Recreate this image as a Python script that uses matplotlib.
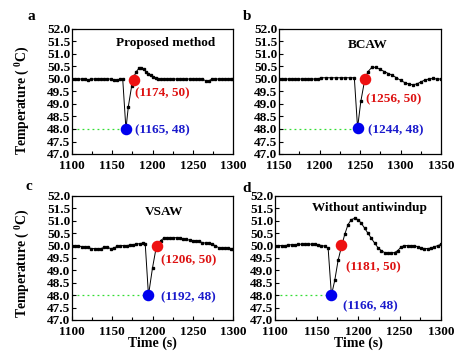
import matplotlib
matplotlib.use("Agg")
import matplotlib.pyplot as plt
from matplotlib.ticker import MultipleLocator, FormatStrFormatter

plt.rcParams['font.family'] = ['Liberation Serif', 'DejaVu Serif']
plt.rcParams['font.weight'] = 'bold'

# ---------------- data ----------------
# Panel a: Proposed method
t_a = [1100, 1104, 1108, 1112, 1116, 1120, 1124, 1128, 1132, 1136, 1140, 1144, 1148,
       1152, 1156, 1160, 1163, 1167, 1170, 1174, 1177, 1180, 1183, 1186, 1189, 1192,
       1195, 1198, 1201, 1204, 1207, 1210, 1214, 1218, 1222, 1226, 1230, 1234, 1238,
       1242, 1246, 1250, 1254, 1258, 1262, 1266, 1270, 1274, 1278, 1282, 1286, 1290,
       1294, 1298, 1300]
T_a = [50.0, 50.0, 50.0, 50.0, 50.0, 49.97, 50.0, 50.0, 50.0, 50.0, 50.0, 50.0, 50.0,
       49.96, 49.96, 50.0, 50.0, 48.0, 48.9, 49.7, 50.1, 50.3, 50.42, 50.44, 50.38, 50.3,
       50.22, 50.15, 50.08, 50.04, 50.0, 50.0, 50.0, 50.0, 50.0, 50.0, 50.0, 50.0, 50.0,
       50.0, 50.0, 50.0, 50.0, 50.0, 50.0, 49.93, 49.93, 50.0, 50.0, 50.0, 50.0, 50.0,
       50.0, 50.0, 50.0]

# Panel b: BCAW
t_b = [1150, 1154, 1158, 1162, 1166, 1170, 1174, 1178, 1182, 1186, 1190, 1194, 1198,
       1202, 1208, 1214, 1220, 1226, 1232, 1238, 1243, 1247, 1251, 1256, 1260, 1265,
       1270, 1275, 1280, 1285, 1290, 1295, 1300, 1305, 1310, 1315, 1320, 1325, 1330,
       1335, 1340, 1345, 1350]
T_b = [50.0, 50.0, 50.0, 50.0, 50.0, 50.0, 50.0, 50.0, 50.0, 50.0, 50.0, 50.0, 50.0,
       50.05, 50.05, 50.05, 50.05, 50.05, 50.05, 50.05, 50.05, 48.05, 49.1, 50.0, 50.3, 50.48,
       50.46, 50.38, 50.3, 50.22, 50.15, 50.05, 49.95, 49.86, 49.8, 49.77, 49.8, 49.88, 49.96,
       50.0, 50.02, 50.0, 50.0]

# Panel c: VSAW
t_c = [1100, 1104, 1108, 1112, 1116, 1120, 1124, 1128, 1132, 1136, 1140, 1144, 1148,
       1152, 1156, 1160, 1164, 1168, 1172, 1176, 1180, 1184, 1188, 1191, 1195, 1200,
       1205, 1210, 1214, 1218, 1222, 1226, 1230, 1234, 1238, 1242, 1246, 1250, 1254,
       1258, 1262, 1266, 1270, 1274, 1278, 1282, 1286, 1290, 1294, 1298, 1300]
T_c = [50.0, 50.0, 50.0, 49.95, 49.95, 49.93, 49.88, 49.88, 49.88, 49.88, 49.93, 49.93, 49.88,
       49.9, 49.97, 50.0, 50.0, 50.0, 50.02, 50.04, 50.06, 50.08, 50.1, 50.05, 48.0, 49.1,
       50.0, 50.2, 50.3, 50.32, 50.32, 50.32, 50.32, 50.3, 50.28, 50.25, 50.22, 50.2, 50.2,
       50.17, 50.12, 50.1, 50.1, 50.06, 50.0, 49.92, 49.9, 49.9, 49.9, 49.88, 49.88]

# Panel d: Without antiwindup
t_d = [1100, 1104, 1108, 1112, 1116, 1120, 1124, 1128, 1132, 1136, 1140, 1144, 1148,
       1152, 1156, 1160, 1164, 1168, 1172, 1176, 1180, 1184, 1188, 1192, 1196, 1200,
       1204, 1208, 1212, 1216, 1220, 1224, 1228, 1232, 1236, 1240, 1244, 1248, 1252,
       1256, 1260, 1264, 1268, 1272, 1276, 1280, 1284, 1288, 1292, 1296, 1300]
T_d = [50.0, 50.0, 50.0, 50.0, 50.02, 50.04, 50.04, 50.05, 50.06, 50.06, 50.06, 50.06, 50.06,
       50.04, 50.0, 49.98, 49.9, 48.0, 48.6, 49.4, 49.95, 50.45, 50.85, 51.05, 51.1, 51.05,
       50.9, 50.7, 50.5, 50.3, 50.1, 49.92, 49.8, 49.72, 49.7, 49.7, 49.72, 49.8, 49.95,
       50.0, 50.0, 50.0, 50.0, 49.95, 49.9, 49.88, 49.88, 49.9, 49.95, 50.0, 50.05]

titles = ['Proposed method', 'BCAW', 'VSAW', 'Without antiwindup']
letters = ['a', 'b', 'c', 'd']
xlims = [(1100, 1300), (1150, 1350), (1100, 1300), (1100, 1300)]
low_pts = [(1167, 48.0), (1247, 48.05), (1195, 48.0), (1168, 48.0)]
set_pts = [(1177, 49.95), (1256, 50.0), (1205, 50.0), (1180, 50.03)]
low_lbl = ['(1165, 48)', '(1244, 48)', '(1192, 48)', '(1166, 48)']
set_lbl = ['(1174, 50)', '(1256, 50)', '(1206, 50)', '(1181, 50)']
low_lbl_pos = [(1178, 47.96), (1260, 47.96), (1211, 47.92), (1182, 47.55)]
set_lbl_pos = [(1178, 49.44), (1258, 49.2), (1211, 49.42), (1185, 49.13)]
title_pos = [(0.58, 0.89), (0.55, 0.87), (0.57, 0.87), (0.57, 0.90)]
ylabel_y = [0.43, None, 0.46, None]

series = [(t_a, T_a), (t_b, T_b), (t_c, T_c), (t_d, T_d)]

W, H = 474, 364
boxes = [(72, 233, 29, 154), (279, 441, 29, 154), (72, 233, 196, 320), (275, 441, 196, 320)]
letter_xy = [(27, 16), (243, 16), (26, 187), (242, 188)]

fig = plt.figure(figsize=(W / 100, H / 100), dpi=100)
fs = 9.5
tfs = 9.5
for i in range(4):
    l, r, t, b = boxes[i]
    ax = fig.add_axes([l / W, 1 - b / H, (r - l) / W, (b - t) / H])
    x, y = series[i]
    ax.plot(x, y, color='black', lw=0.7, marker='s', ms=1.8, zorder=2)
    ax.set_xlim(*xlims[i])
    ax.set_ylim(47.0, 52.0)
    ax.plot([xlims[i][0], low_pts[i][0]], [48.0, 48.0], color='#33dd33', ls=(0, (1.5, 2.5)),
            lw=0.9, zorder=1)
    ax.plot(*low_pts[i], 'o', color='#0000ee', ms=7.3, zorder=3)
    ax.plot(*set_pts[i], 'o', color='#ee1111', ms=7.3, zorder=3)
    ax.text(*low_lbl_pos[i], low_lbl[i], color='#1a1acc', fontsize=fs, fontweight='bold',
            va='center', ha='left')
    ax.text(*set_lbl_pos[i], set_lbl[i], color='#dd1111', fontsize=fs, fontweight='bold',
            va='center', ha='left')
    ax.text(*title_pos[i], titles[i], transform=ax.transAxes, fontsize=fs, fontweight='bold',
            ha='center', va='center')
    ax.yaxis.set_major_locator(MultipleLocator(0.5))
    ax.xaxis.set_major_locator(MultipleLocator(50))
    ax.xaxis.set_minor_locator(MultipleLocator(25))
    ax.tick_params(direction='in', labelsize=tfs, length=3, width=0.8, pad=1)
    ax.tick_params(axis='x', pad=4.5)
    ax.tick_params(which='minor', direction='in', length=2, width=0.8)
    for lab in ax.get_xticklabels() + ax.get_yticklabels():
        lab.set_fontweight('bold')
    ax.yaxis.set_major_formatter(FormatStrFormatter('%.1f'))
    for s in ax.spines.values():
        s.set_linewidth(0.9)
    lx, ly = letter_xy[i]
    fig.text(lx / W, 1 - ly / H, letters[i], fontsize=11, fontweight='bold',
             ha='left', va='center')
    if ylabel_y[i] is not None:
        ax.set_ylabel('Temperature ( $\\mathregular{^0}$C)', fontsize=9.8, fontweight='bold')
        ax.yaxis.set_label_coords((32 - l) / (r - l), ylabel_y[i])
    if i in (2, 3):
        ax.set_xlabel('Time (s)', fontsize=10, fontweight='bold', labelpad=-1)

fig.savefig('out.png', dpi=100)
